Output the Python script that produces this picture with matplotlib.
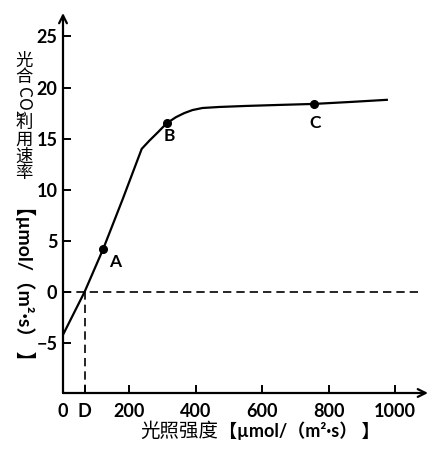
import matplotlib
matplotlib.use('Agg')
import matplotlib.pyplot as plt

# light response curve
light = [0, 65, 121, 180, 237, 260, 285, 312, 340, 365, 390, 420, 470, 550, 650, 756, 870, 975]
rate = [-4.2, 0, 4.2, 9.1, 14.0, 14.8, 15.6, 16.5, 17.1, 17.5, 17.8, 18.0, 18.1, 18.2, 18.3, 18.4, 18.6, 18.8]

# marked points
pt_names = ['A', 'B', 'C']
pt_x = [121, 312, 756]
pt_y = [4.2, 16.5, 18.4]
D = 65

xticks = [0, D, 200, 400, 600, 800, 1000]
xtick_labels = ['0', 'D', '200', '400', '600', '800', '1000']
yticks = [-5, 0, 5, 10, 15, 20, 25]

latin = ['Lato', 'Noto Sans CJK SC', 'DejaVu Sans']
cjk = ['Noto Sans CJK SC', 'DejaVu Sans']
plt.rcParams['font.family'] = cjk
plt.rcParams['mathtext.default'] = 'regular'

W, H = 440, 451
fig = plt.figure(figsize=(W / 100, H / 100), dpi=100)
ax = fig.add_axes([63 / W, (H - 393) / H, (428 - 63) / W, (393 - 13) / H])
ax.set_xlim(0, 1099)
ax.set_ylim(-9.9, 27.3)

# curve and points
ax.plot(light, rate, color='black', lw=1.6)
ax.plot(pt_x, pt_y, 'o', color='black', ms=5.5)
label_shift = {'A': (12, -13), 'B': (3, -13), 'C': (1, -19)}  # pixels
for name, x, y in zip(pt_names, pt_x, pt_y):
    ax.annotate(name, (x, y), xytext=label_shift[name], textcoords='offset pixels',
                family=latin, weight='bold', fontsize=12.5, ha='center', va='center')

# dashed guide lines
ax.plot([0, 1069], [0, 0], color='black', lw=1.2, ls=(0, (5, 3)))
ax.plot([D, D], [-9.9, 0], color='black', lw=1.2, ls=(0, (5, 3)))

# axes with arrows
for s in ax.spines.values():
    s.set_visible(False)
arrow = dict(arrowstyle='->', lw=1.6, color='black', mutation_scale=14, shrinkA=0, shrinkB=0)
ax.annotate('', xy=(0, 1), xytext=(0, 0), xycoords='axes fraction', arrowprops=arrow)
ax.annotate('', xy=(1, 0), xytext=(0, 0), xycoords='axes fraction', arrowprops=arrow)

ax.set_xticks(xticks)
ax.set_xticklabels(xtick_labels)
ax.set_yticks(yticks)
ax.tick_params(direction='in', length=6, width=1.4)
ax.tick_params(axis='x', pad=7)
ax.tick_params(axis='y', pad=4)
for lab in ax.get_xticklabels() + ax.get_yticklabels():
    lab.set_family(latin)
    lab.set_fontweight('bold')
    lab.set_fontsize(13)


def fp(x, y):
    return x / W, 1 - y / H


# x label
fig.text(*fp(218, 431), '光照强度', family=cjk, fontsize=14, ha='right', va='center')
fig.text(*fp(219, 431), '【µmol/（m²·s） 】', family=latin, weight='bold', fontsize=13,
         ha='left', va='center')

# y label, vertical writing
fig.text(*fp(24, 69), '光\n合', family=cjk, fontsize=12.5, linespacing=0.85,
         ha='center', va='center')
fig.text(*fp(24, 101), r'CO$_2$', family=cjk, fontsize=12.5, rotation=-90,
         ha='center', va='center')
fig.text(*fp(24, 148), '利\n用\n速\n率', family=cjk, fontsize=12.5, linespacing=0.9,
         ha='center', va='center')
fig.text(*fp(25, 283), '【µmol/（m²·s） 】', family=latin, weight='bold', fontsize=14,
         rotation=-90, ha='center', va='center')

fig.savefig('out.png', dpi=100)
